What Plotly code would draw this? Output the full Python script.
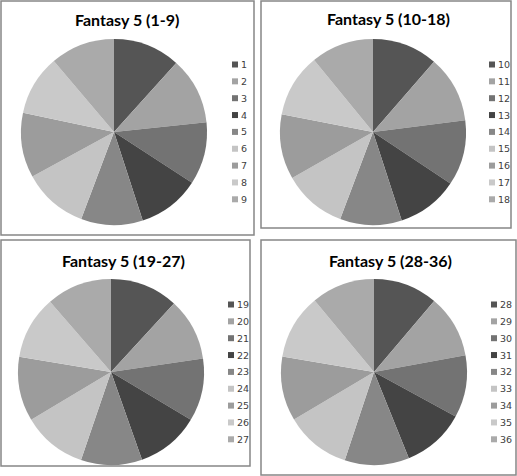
import plotly.graph_objects as go

# ---------------- data ----------------
titles = ["Fantasy 5 (1-9)", "Fantasy 5 (10-18)", "Fantasy 5 (19-27)", "Fantasy 5 (28-36)"]

labels_1 = ["1", "2", "3", "4", "5", "6", "7", "8", "9"]
labels_2 = ["10", "11", "12", "13", "14", "15", "16", "17", "18"]
labels_3 = ["19", "20", "21", "22", "23", "24", "25", "26", "27"]
labels_4 = ["28", "29", "30", "31", "32", "33", "34", "35", "36"]

values_1 = [126, 126, 117, 117, 116, 122, 122, 113, 121]
values_2 = [123, 125, 123, 115, 116, 119, 122, 119, 118]
values_3 = [128, 117, 118, 119, 115, 121, 121, 119, 123]
values_4 = [121, 118, 117, 118, 121, 123, 121, 122, 119]

slice_colors = ["#555555", "#a3a3a3", "#737373", "#444444", "#878787",
                "#c4c4c4", "#9c9c9c", "#c9c9c9", "#aaaaaa"]

# ---------------- layout helpers ----------------
W, H = 517, 476

def fx(px):
    return px / W

def fy(py):
    return 1 - py / H

panels = [
    dict(labels=labels_1, values=values_1, title=titles[0],
         center=(114, 132), r=93, title_xy=(127, 20),
         leg_x=232, leg_y0=64.5, box=(1, 1, 254, 235)),
    dict(labels=labels_2, values=values_2, title=titles[1],
         center=(373, 132), r=93, title_xy=(388, 19),
         leg_x=489, leg_y0=64.5, box=(261, 1, 511, 228)),
    dict(labels=labels_3, values=values_3, title=titles[2],
         center=(111, 372), r=93, title_xy=(123, 260),
         leg_x=228, leg_y0=304.5, box=(1, 240, 250, 466)),
    dict(labels=labels_4, values=values_4, title=titles[3],
         center=(374, 372), r=93, title_xy=(390, 260),
         leg_x=491, leg_y0=304.5, box=(261, 240, 516, 475)),
]
leg_step = 16.85
sw = 6

fig = go.Figure()
shapes = []
annotations = []

for p in panels:
    cx, cy = p["center"]
    r = p["r"]
    fig.add_trace(go.Pie(
        labels=p["labels"], values=p["values"],
        marker=dict(colors=slice_colors, line=dict(width=0)),
        sort=False, direction="clockwise", rotation=0,
        textinfo="none", showlegend=False,
        domain=dict(x=[fx(cx - r), fx(cx + r)], y=[fy(cy + r), fy(cy - r)]),
    ))
    x0, y0, x1, y1 = p["box"]
    shapes.append(dict(type="rect", xref="paper", yref="paper",
                       x0=fx(x0), x1=fx(x1), y0=fy(y0), y1=fy(y1),
                       line=dict(color="#878787", width=1.5)))
    tx, ty = p["title_xy"]
    annotations.append(dict(text="<b>" + p["title"] + "</b>", x=fx(tx), y=fy(ty),
                            xref="paper", yref="paper", showarrow=False,
                            xanchor="center", yanchor="middle",
                            font=dict(family="Lato", size=16, color="#000000")))
    for i, lab in enumerate(p["labels"]):
        yy = p["leg_y0"] + i * leg_step
        shapes.append(dict(type="rect", xref="paper", yref="paper",
                           x0=fx(p["leg_x"]), x1=fx(p["leg_x"] + sw),
                           y0=fy(yy - sw / 2), y1=fy(yy + sw / 2),
                           fillcolor=slice_colors[i], line=dict(width=0)))
        annotations.append(dict(text=lab, x=fx(p["leg_x"] + sw + 0.5), y=fy(yy),
                                xref="paper", yref="paper", showarrow=False,
                                xanchor="left", yanchor="middle",
                                font=dict(family="DejaVu Sans", size=9.5, color="#404040")))

fig.update_layout(
    width=W, height=H,
    margin=dict(l=0, r=0, t=0, b=0),
    paper_bgcolor="white", plot_bgcolor="white",
    shapes=shapes, annotations=annotations,
)

fig.write_html("out.html")
